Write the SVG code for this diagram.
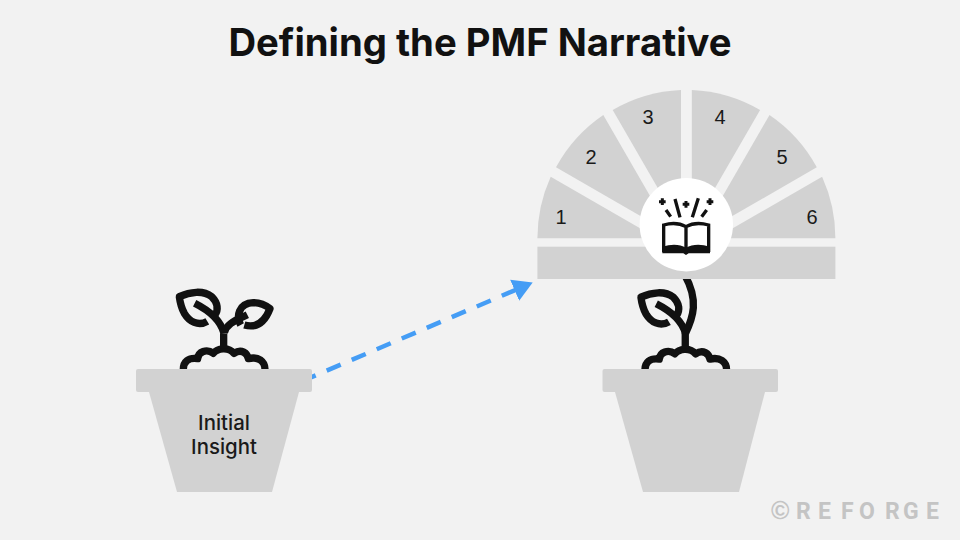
<svg xmlns="http://www.w3.org/2000/svg" width="960" height="540" viewBox="0 0 960 540">
<style>
.g{fill:#d2d2d2}
.ink{fill:none;stroke:#111;stroke-width:22;stroke-linejoin:round}
.n{font-family:"Liberation Sans",Arial,sans-serif;font-size:20px;fill:#1a1a1a;text-anchor:middle}
.l{font-family:"Inter","Liberation Sans",sans-serif;font-weight:500;font-size:20.4px;fill:#1a1a1a;text-anchor:middle}
.bi{fill:none;stroke:#111;stroke-linecap:butt}
</style>
<defs>
<marker id="head" markerUnits="userSpaceOnUse" markerWidth="20" markerHeight="24" refX="2" refY="12" orient="auto"><path d="M0,0.6 L19.6,12 L0,23.4Z" fill="#459df5"/></marker>
<g id="soil"><path class="ink" d="M160,268C160,245 175,232 203,236C205,215 230,205 250,220C262,205 295,200 312,220C335,205 352,220 355,236C385,228 405,245 405,268"/></g>
<g id="leaf"><path class="ink" d="M232,124C205,140 178,125 163,100C155,85 150,65 148,50C180,35 220,30 245,50C265,70 265,90 255,105"/><path class="ink" d="M194,70C230,88 270,115 282,160"/></g>
</defs>
<rect width="960" height="540" fill="#f2f2f2"/>
<text id="title" x="480" y="55.5" font-family="Inter,'Liberation Sans',sans-serif" font-weight="700" font-size="38.25" fill="#111" text-anchor="middle">Defining the PMF Narrative</text>

<g id="connectors"><path d="M301.7,381.3L516.5,289.5" fill="none" stroke="#459df5" stroke-width="4.5" stroke-dasharray="15.2 12" marker-end="url(#head)"/></g>

<g id="plant-left" transform="translate(130,280) scale(.3333)">
<use href="#soil"/><use href="#leaf"/>
<path class="ink" d="M281,205V160"/>
<path class="ink" d="M283,158C290,130 320,120 352,104M332,135C318,110 325,70 370,68C390,68 410,78 420,86C410,112 390,148 343,135"/>
</g>
<g id="pot-left">
<rect class="g" x="136" y="369" width="176" height="23" rx="2"/>
<path class="g" d="M149,392H299L272,492H177Z"/>
<text class="l" x="224" y="430">Initial</text><text class="l" x="224" y="454">Insight</text>
</g>

<g id="plant-right" transform="translate(591.6,280.5) scale(.3333)">
<use href="#soil"/><use href="#leaf"/>
<path class="ink" d="M281,205V160C305,110 322,60 280,-16"/>
</g>
<g id="pot-right">
<rect class="g" x="602.5" y="369" width="175.5" height="23" rx="2"/>
<path class="g" d="M615,392H765L739,492H643Z"/>
</g>

<g id="fan">
<path id="s1" class="g" d="M537.4,238.3A149,149 0 0 1 550.7,176.7L650,234V238.3Z"/>
<path id="s2" class="g" d="M556,167.3A149,149 0 0 1 603.3,115L660,213.2L650,221.6Z"/>
<path id="s3" class="g" d="M612.7,110A149,149 0 0 1 681,90V200.6H665Z"/>
<path id="s4" class="g" d="M760.1,110A149,149 0 0 0 691.8,90V200.6H707.8Z"/>
<path id="s5" class="g" d="M816.8,167.3A149,149 0 0 0 769.5,115L712.8,213.2L722.8,221.6Z"/>
<path id="s6" class="g" d="M835.4,238.3A149,149 0 0 0 822.1,176.7L722.8,234V238.3Z"/>
<rect id="band" class="g" x="537.4" y="246.7" width="298" height="32.3"/>
<text class="n" x="561" y="224">1</text><text class="n" x="591" y="164">2</text><text class="n" x="648" y="124">3</text><text class="n" x="720" y="124">4</text><text class="n" x="782" y="164">5</text><text class="n" x="812" y="224">6</text>
</g>
<g id="book">
<circle cx="686.3" cy="224.7" r="46.7" fill="#fff"/>
<g transform="translate(630,175) scale(.3333)">
<path class="bi" stroke-width="10" d="M168,155C150,145 125,143 101,150V226H168M168,155C186,145 211,143 236,150V226H168M168,155V226"/>
<path d="M97,216C125,205 150,208 168,218C186,208 212,205 240,216V235H176L168,240L160,235H97Z" fill="#111"/>
<path class="bi" stroke-width="10" d="M108,105L122,125M135,72L150,127M205,70L187,127M230,105L215,125"/>
<path class="bi" stroke-width="9" d="M87,80H107M97,70V90M158,88H178M168,78V98M230,80H250M240,70V90"/>
</g>
</g>
<text id="logo" y="519" font-family="Roboto,'Liberation Sans',sans-serif" font-weight="700" font-size="23" fill="#c4c4c4" x="771 796 818 841 859 885 903 926"><tspan font-family="'Liberation Sans',sans-serif" font-size="25">©</tspan>REFORGE</text>
</svg>
